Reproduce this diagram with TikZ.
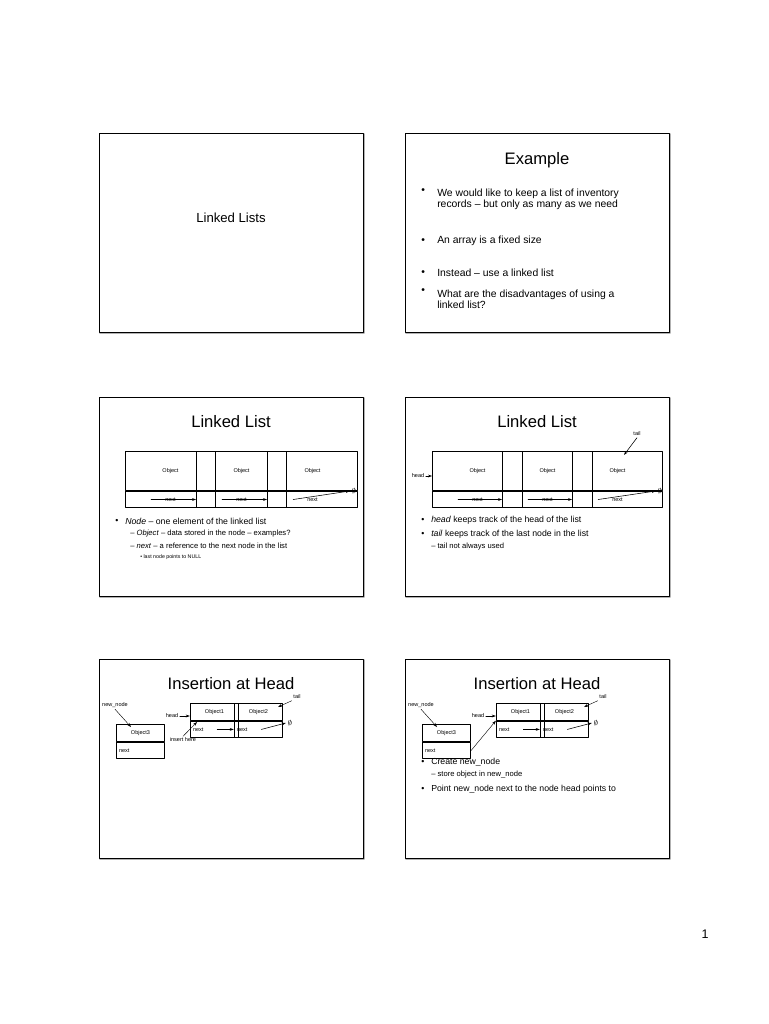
\documentclass[tikz,border=0pt]{standalone}
\usepackage{fontspec}
\setmainfont{Liberation Sans}
\usetikzlibrary{positioning,arrows.meta}
\tikzset{
  slide/.style={draw=black, line width=0.6pt},
  shadow/.style={draw=gray!60, line width=1.2pt},
  ptr/.style={-{Stealth[length=3pt,width=2pt]}, line width=0.4pt},
  bigbox/.style={draw, line width=0.6pt, minimum width=65, minimum height=28, inner sep=0pt, font=\fontsize{4}{5}\selectfont},
  bignext/.style={draw, line width=0.6pt, minimum width=65, minimum height=12, inner sep=0pt, font=\fontsize{4}{5}\selectfont},
  smallbox/.style={draw, line width=0.6pt, minimum width=35, minimum height=12, inner sep=0pt, font=\fontsize{4}{5}\selectfont},
  smallnext/.style={draw, line width=0.6pt, minimum width=35, minimum height=12, inner sep=0pt, text width=31, align=left, font=\fontsize{4}{5}\selectfont},
  lbl/.style={font=\fontsize{4}{5}\selectfont, inner sep=1pt},
  title/.style={font=\fontsize{12}{14}\selectfont},
  txt/.style={font=\fontsize{7.5}{9}\selectfont, anchor=west, inner sep=0pt},
  bul3/.style={font=\fontsize{6.3}{8}\selectfont, anchor=west, inner sep=0pt},
  sub3/.style={font=\fontsize{5.5}{7}\selectfont, anchor=west, inner sep=0pt},
  subsub3/.style={font=\fontsize{3.8}{5}\selectfont, anchor=west, inner sep=0pt}
}
\begin{document}
\begin{tikzpicture}[x=0.01in, y=-0.01in, line cap=round, line join=round]
\useasboundingbox (0,0) rectangle (768,1024);
\fill[white] (0,0) rectangle (768,1024);

% slide frames
\foreach \sx in {99,405}{
  \foreach \sy in {133,397,659}{
    \draw[shadow] (\sx+265,\sy+1) -- (\sx+265,\sy+200) -- (\sx+1,\sy+200);
    \draw[slide] (\sx,\sy) rectangle (\sx+264,\sy+199);
  }
}

% slide 1
\node[font=\fontsize{9.5}{11}\selectfont] (t1) at (231,218) {Linked Lists};

% slide 2
\node[title] (t2) at (537,160) {Example};
\node[txt] (b21) at (421,191) {•};
\node[txt, align=left] (s21) at (437,199) {We would like to keep a list of inventory\\[-1pt]records – but only as many as we need};
\node[txt] (b22) at (421,241) {•};
\node[txt] (s22) at (437,241) {An array is a fixed size};
\node[txt] (b23) at (421,273) {•};
\node[txt] (s23) at (437,273) {Instead – use a linked list};
\node[txt] (b24) at (421,291) {•};
\node[txt, align=left] (s24) at (437,299) {What are the disadvantages of using a\\[-1pt]linked list?};

% slide 3
\node[title] (t3) at (231,422) {Linked List};
\foreach \i/\x in {1/170.5,2/241.5,3/312.5}{
  \node[bigbox] (o\i) at (\x,471) {Object};
  \node[bignext, below=0pt of o\i] (n\i) {next};
}
\node[lbl] (nil3) at (354,491) {$\emptyset$};
\draw[ptr] ([xshift=-14]n1.center) -- (n2.west);
\draw[ptr] ([xshift=-14]n2.center) -- (n3.west);
\draw[ptr] ([xshift=-14]n3.center) -- (nil3.west);
\node[bul3] (b31) at (115,521) {•};
\node[bul3] (s31) at (125,521) {\textit{Node} – one element of the linked list};
\node[sub3] (s32) at (130,534) {– \textit{Object} – data stored in the node – examples?};
\node[sub3] (s33) at (130,546) {– \textit{next} – a reference to the next node in the list};
\node[subsub3] (s34) at (140,557) {• last node points to NULL};

% slide 4
\node[title] (t4) at (537,422) {Linked List};
\foreach \i/\x in {1/477.5,2/547.5,3/617.5}{
  \node[bigbox] (p\i) at (\x,471) {Object};
  \node[bignext, below=0pt of p\i] (m\i) {next};
}
\node[lbl] (nil4) at (660,491) {$\emptyset$};
\draw[ptr] ([xshift=-14]m1.center) -- (m2.west);
\draw[ptr] ([xshift=-14]m2.center) -- (m3.west);
\draw[ptr] ([xshift=-14]m3.center) -- (nil4.west);
\node[lbl] (head4) at (418,476) {head};
\draw[ptr] (head4.east) -- (p1.west |- head4);
\node[lbl] (tail4) at (637,434) {tail};
\coordinate (tailend4) at (624,455);
\draw[ptr] (tail4.south) -- (tailend4);
\node[bul3] (b41) at (421,520) {•};
\node[bul3] (s41) at (431,520) {\textit{head} keeps track of the head of the list};
\node[bul3] (b42) at (421,534) {•};
\node[bul3] (s42) at (431,534) {\textit{tail} keeps track of the last node in the list};
\node[sub3] (s43) at (431,547) {– tail not always used};

% slides 5 and 6
\foreach \dx/\k in {0/a,306/b}{
  \begin{scope}[xshift=\dx*0.01in]
    \node[title] (t5\k) at (231,684) {Insertion at Head};
    \node[smallbox] (x1\k) at (214.5,712) {Object1};
    \node[smallnext, below=0pt of x1\k] (y1\k) {next};
    \node[smallbox] (x2\k) at (258.5,712) {Object2};
    \node[smallnext, below=0pt of x2\k] (y2\k) {next};
    \node[smallbox] (x3\k) at (140.5,733) {Object3};
    \node[smallnext, below=0pt of x3\k] (y3\k) {next};
    \node[lbl] (nil\k) at (290,723) {$\emptyset$};
    \draw[ptr] ([xshift=2]y1\k.center) -- (y2\k.west);
    \draw[ptr] ([xshift=2]y2\k.center) -- (nil\k.west);
    \node[lbl] (head\k) at (172,716) {head};
    \draw[ptr] (head\k.east) -- (x1\k.west |- head\k);
    \node[lbl] (new\k) at (115,705) {new\_node};
    \coordinate (newend\k) at (131,727);
    \draw[ptr, line width=0.3pt] (new\k.south) -- (newend\k);
    \node[lbl] (tail\k) at (297,697) {tail};
    \coordinate (tailend\k) at (278,707);
    \draw[ptr, line width=0.3pt] (tail\k.south west) -- (tailend\k);
  \end{scope}
}
\node[lbl] (ins) at (183,740) {insert here};
\coordinate (insend) at (197,722);
\draw[ptr, line width=0.3pt] (ins.north) -- (insend);
\draw[ptr, line width=0.3pt] (y3b.east) -- (x1b.south west);
\node[bul3] (b61) at (421,762) {•};
\node[bul3] (s61) at (431,762) {Create new\_node};
\node[sub3] (s62) at (431,775) {– store object in new\_node};
\node[bul3] (b63) at (421,789) {•};
\node[bul3] (s63) at (431,789) {Point new\_node next to the node head points to};

\node[font=\fontsize{9}{11}\selectfont] (pg) at (705,934) {1};
\end{tikzpicture}
\end{document}
